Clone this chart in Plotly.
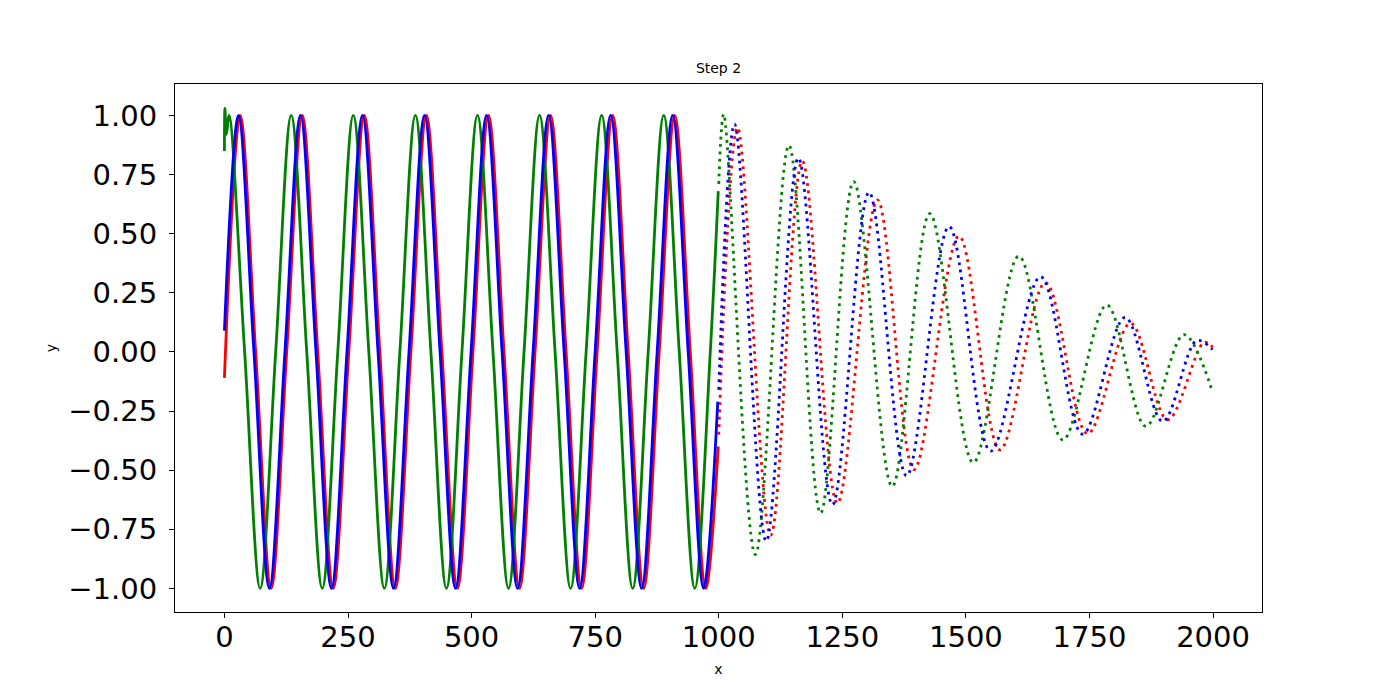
import plotly.graph_objects as go

# key points (peaks, troughs, zero crossings); spline joins them
red_x = [0, 31.8, 63.2, 94.6, 126.0, 157.4, 188.8, 220.2, 251.6, 283.0, 314.4, 345.8, 377.2,
         408.6, 440.0, 471.4, 502.8, 534.2, 565.6, 597.0, 628.4, 659.8, 691.2, 722.6, 754.0,
         785.4, 816.8, 848.2, 879.6, 911.0, 942.4, 973.8, 999]
red_y = [-0.11, 1, 0, -1, 0, 1, 0, -1, 0, 1, 0, -1, 0,
         1, 0, -1, 0, 1, 0, -1, 0, 1, 0, -1, 0,
         1, 0, -1, 0, 1, 0, -1, -0.40]

green_x = [0, 1, 4, 9.5, 40.9, 72.3, 103.7, 135.1, 166.5, 197.9, 229.3, 260.7, 292.1, 323.5,
           354.9, 386.3, 417.7, 449.1, 480.5, 511.9, 543.3, 574.7, 606.1, 637.5, 668.9, 700.3,
           731.7, 763.1, 794.5, 825.9, 857.3, 888.7, 920.1, 951.5, 982.9, 999]
green_y = [0.85, 1.03, 0.92, 1.0, 0, -1, 0, 1, 0, -1, 0, 1, 0, -1,
           0, 1, 0, -1, 0, 1, 0, -1, 0, 1, 0, -1,
           0, 1, 0, -1, 0, 1, 0, -1, 0, 0.68]

blue_x = [0, 28.3, 59.7, 91.0, 122.4, 153.8, 185.2, 216.5, 247.9, 279.3, 310.7, 342.0, 373.4,
          404.8, 436.2, 467.5, 498.9, 530.3, 561.7, 593.0, 624.4, 655.8, 687.2, 718.5, 749.9,
          781.3, 812.7, 844.0, 875.4, 906.8, 938.2, 969.5, 998]
blue_y = [0.09, 1, 0, -1, 0, 1, 0, -1, 0, 1, 0, -1, 0,
          1, 0, -1, 0, 1, 0, -1, 0, 1, 0, -1, 0,
          1, 0, -1, 0, 1, 0, -1, -0.21]

# predicted part (dotted)
red_pred_x = [1000, 1038, 1105, 1169, 1240, 1321, 1395, 1486, 1569, 1661, 1746, 1833, 1908, 1982, 1999]
red_pred_y = [-0.35, 0.949, -0.775, 0.807, -0.64, 0.643, -0.498, 0.49, -0.414, 0.293, -0.346, 0.121, -0.287, 0.041, 0.02]

green_pred_x = [1000, 1010, 1074, 1142, 1206, 1273, 1351, 1427, 1515, 1607, 1696, 1785, 1864, 1941, 1999]
green_pred_y = [0.71, 1.005, -0.857, 0.874, -0.682, 0.72, -0.569, 0.585, -0.468, 0.405, -0.372, 0.198, -0.315, 0.073, -0.17]

blue_pred_x = [1000, 1032, 1096, 1161, 1230, 1304, 1380, 1466, 1550, 1651, 1736, 1822, 1898, 1967, 1999]
blue_pred_y = [-0.16, 0.963, -0.80, 0.82, -0.646, 0.675, -0.524, 0.53, -0.42, 0.318, -0.348, 0.146, -0.294, 0.048, 0.01]

x_ticks = [0, 250, 500, 750, 1000, 1250, 1500, 1750, 2000]
y_ticks = [-1.0, -0.75, -0.5, -0.25, 0.0, 0.25, 0.5, 0.75, 1.0]

series = [
    (red_x, red_y, red_pred_x, red_pred_y, '#ff0000'),
    (green_x, green_y, green_pred_x, green_pred_y, '#008000'),
    (blue_x, blue_y, blue_pred_x, blue_pred_y, '#0000ff'),
]

fig = go.Figure()
for xs, ys, pxs, pys, col in series:
    fig.add_trace(go.Scatter(x=xs, y=ys, mode='lines',
                             line=dict(color=col, width=2.8, shape='spline')))
    fig.add_trace(go.Scatter(x=pxs, y=pys, mode='lines',
                             line=dict(color=col, width=2.8, shape='spline', dash='2.8px,4.6px')))

font = 'DejaVu Sans, Liberation Sans, sans-serif'
# page has an 8px body margin, so margins are shifted by 8px
fig.update_layout(
    width=1400, height=700,
    margin=dict(l=167, r=146, t=76, b=96),
    paper_bgcolor='white', plot_bgcolor='white',
    showlegend=False,
    font=dict(family=font, color='black'),
    title=dict(text='Step 2', x=0.5, xref='paper', xanchor='center',
               y=1 - 60 / 700, yref='container', yanchor='middle',
               font=dict(size=14, family=font, color='black')),
)
fig.update_xaxes(range=[-100, 2099], tickvals=x_ticks, ticks='outside', ticklen=5, tickwidth=1,
                 tickcolor='black', showline=True, linecolor='black', linewidth=1, mirror=True,
                 showgrid=False, zeroline=False, tickfont=dict(size=29, family=font),
                 ticklabelstandoff=-6,
                 title=dict(text='x', font=dict(size=14, family=font), standoff=11))
fig.update_yaxes(range=[-1.1, 1.133], tickvals=y_ticks, tickformat='.2f', ticks='outside', ticklen=5,
                 tickwidth=1, tickcolor='black', showline=True, linecolor='black', linewidth=1,
                 mirror=True, showgrid=False, zeroline=False, tickfont=dict(size=29, family=font),
                 ticklabelstandoff=6,
                 title=dict(text='y', font=dict(size=14, family=font), standoff=8))

fig.write_html("out.html")
